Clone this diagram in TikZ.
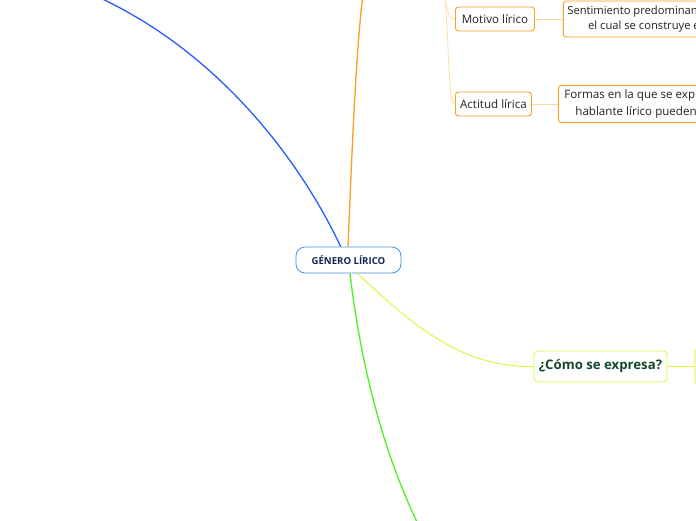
\documentclass[tikz,border=0pt]{standalone}
\usepackage{fontspec}
\setmainfont{Open Sans}
\usetikzlibrary{
  arrows.meta,
  positioning,
}
\definecolor{branchBlue}{RGB}{38,92,255}
\definecolor{branchOrange}{RGB}{247,160,34}
\definecolor{branchGreen}{RGB}{78,240,34}
\definecolor{branchLime}{RGB}{222,246,66}
\definecolor{twigOrange}{RGB}{253,216,160}
\definecolor{rootBlue}{RGB}{70,146,222}
\definecolor{rootText}{RGB}{18,38,82}
\definecolor{limeText}{RGB}{22,72,48}
\definecolor{leafText}{RGB}{34,34,34}
\tikzset{
  branch/.style = {
    line width=1.3pt,
  },
  twig/.style = {
    draw=twigOrange,
    line width=0.7pt
  },
  root topic/.style = {
    draw=rootBlue,
    fill=white,
    line width=0.8pt,
    rounded corners=9pt,
    minimum width=105pt,
    minimum height=26pt,
    text=rootText,
    font=\bfseries\fontsize{9.6}{11}\selectfont
  },
  lime topic/.style = {
    draw=branchLime,
    fill=white,
    line width=0.9pt,
    rounded corners=4pt,
    minimum width=133pt,
    minimum height=31pt,
    inner xsep=2pt,
    text=limeText,
    font=\bfseries\fontsize{13.2}{15}\selectfont
  },
  orange topic/.style = {
    draw=branchOrange,
    fill=white,
    line width=0.9pt,
    rounded corners=3pt,
    minimum height=24pt,
    inner xsep=4pt,
    text=leafText,
    font=\fontsize{11.6}{13}\selectfont
  },
  orange note/.style = {
    orange topic,
    align=center,
    inner xsep=4pt,
    font=\fontsize{11.2}{15}\selectfont
  },
}

\begin{document}
\begin{tikzpicture}[x=1pt, y=-1pt]
  \useasboundingbox (0,0) rectangle (696,520);
  %% main branches
  \node (root) [root topic] at (348.5,260) {GÉNERO LÍRICO};
  \coordinate (upLeft) at (96,-4);
  \coordinate (upTop) at (363,-6);
  \coordinate (downEnd) at (418,524);
  \draw[branch, branchBlue] (root.north west) ++(45,0) coordinate (b1)
    .. controls (305,170) and (225,55) .. (upLeft);
  \draw[branch, branchOrange] (root.north) ++(-0.5,0)
    .. controls (352,150) and (356,50) .. (upTop);
  \draw[branch, branchGreen] (root.south) ++(1.5,0)
    .. controls (360,360) and (382,450) .. (downEnd);
  \node (como) [lime topic] at (600.5,366.5) {¿Cómo se expresa?};
  \draw[branch, branchLime, line width=1pt] (root.south) ++(9,0)
    .. controls (425,338) and (470,367) .. (como.west);
  \node (hidden) [lime topic, minimum width=80pt, minimum height=37pt,
    anchor=west, right=27pt of como] {};
  \draw[branchLime, line width=0.9pt] (como) -- (hidden);
  %% orange twigs
  \coordinate (twigTop) at (445,-2);
  \node (motivo) [orange topic, anchor=west, minimum width=79pt] at (455,19) {Motivo lírico};
  \node (actitud) [orange topic, anchor=west, minimum width=76pt] at (455,104) {Actitud lírica};
  \draw[twig] (twigTop) .. controls (447,12) and (449,19) .. (motivo.west);
  \draw[twig] (twigTop) .. controls (450,60) and (448,104) .. (actitud.west);
  \node (sentimiento) [orange note, right=28pt of motivo, minimum height=36pt]
    {Sentimiento predominante del poema, sobre\\ el cual se construye el mensaje lírico.};
  \node (formas) [orange note, right=26pt of actitud, minimum height=37pt,
    inner xsep=6pt, font=\fontsize{11.6}{16.5}\selectfont]
    {Formas en la que se expresa el\\ hablante lírico pueden ser:};
  \draw[twig] (motivo) -- (sentimiento);
  \draw[twig] (actitud) -- (formas);
\end{tikzpicture}
\end{document}
